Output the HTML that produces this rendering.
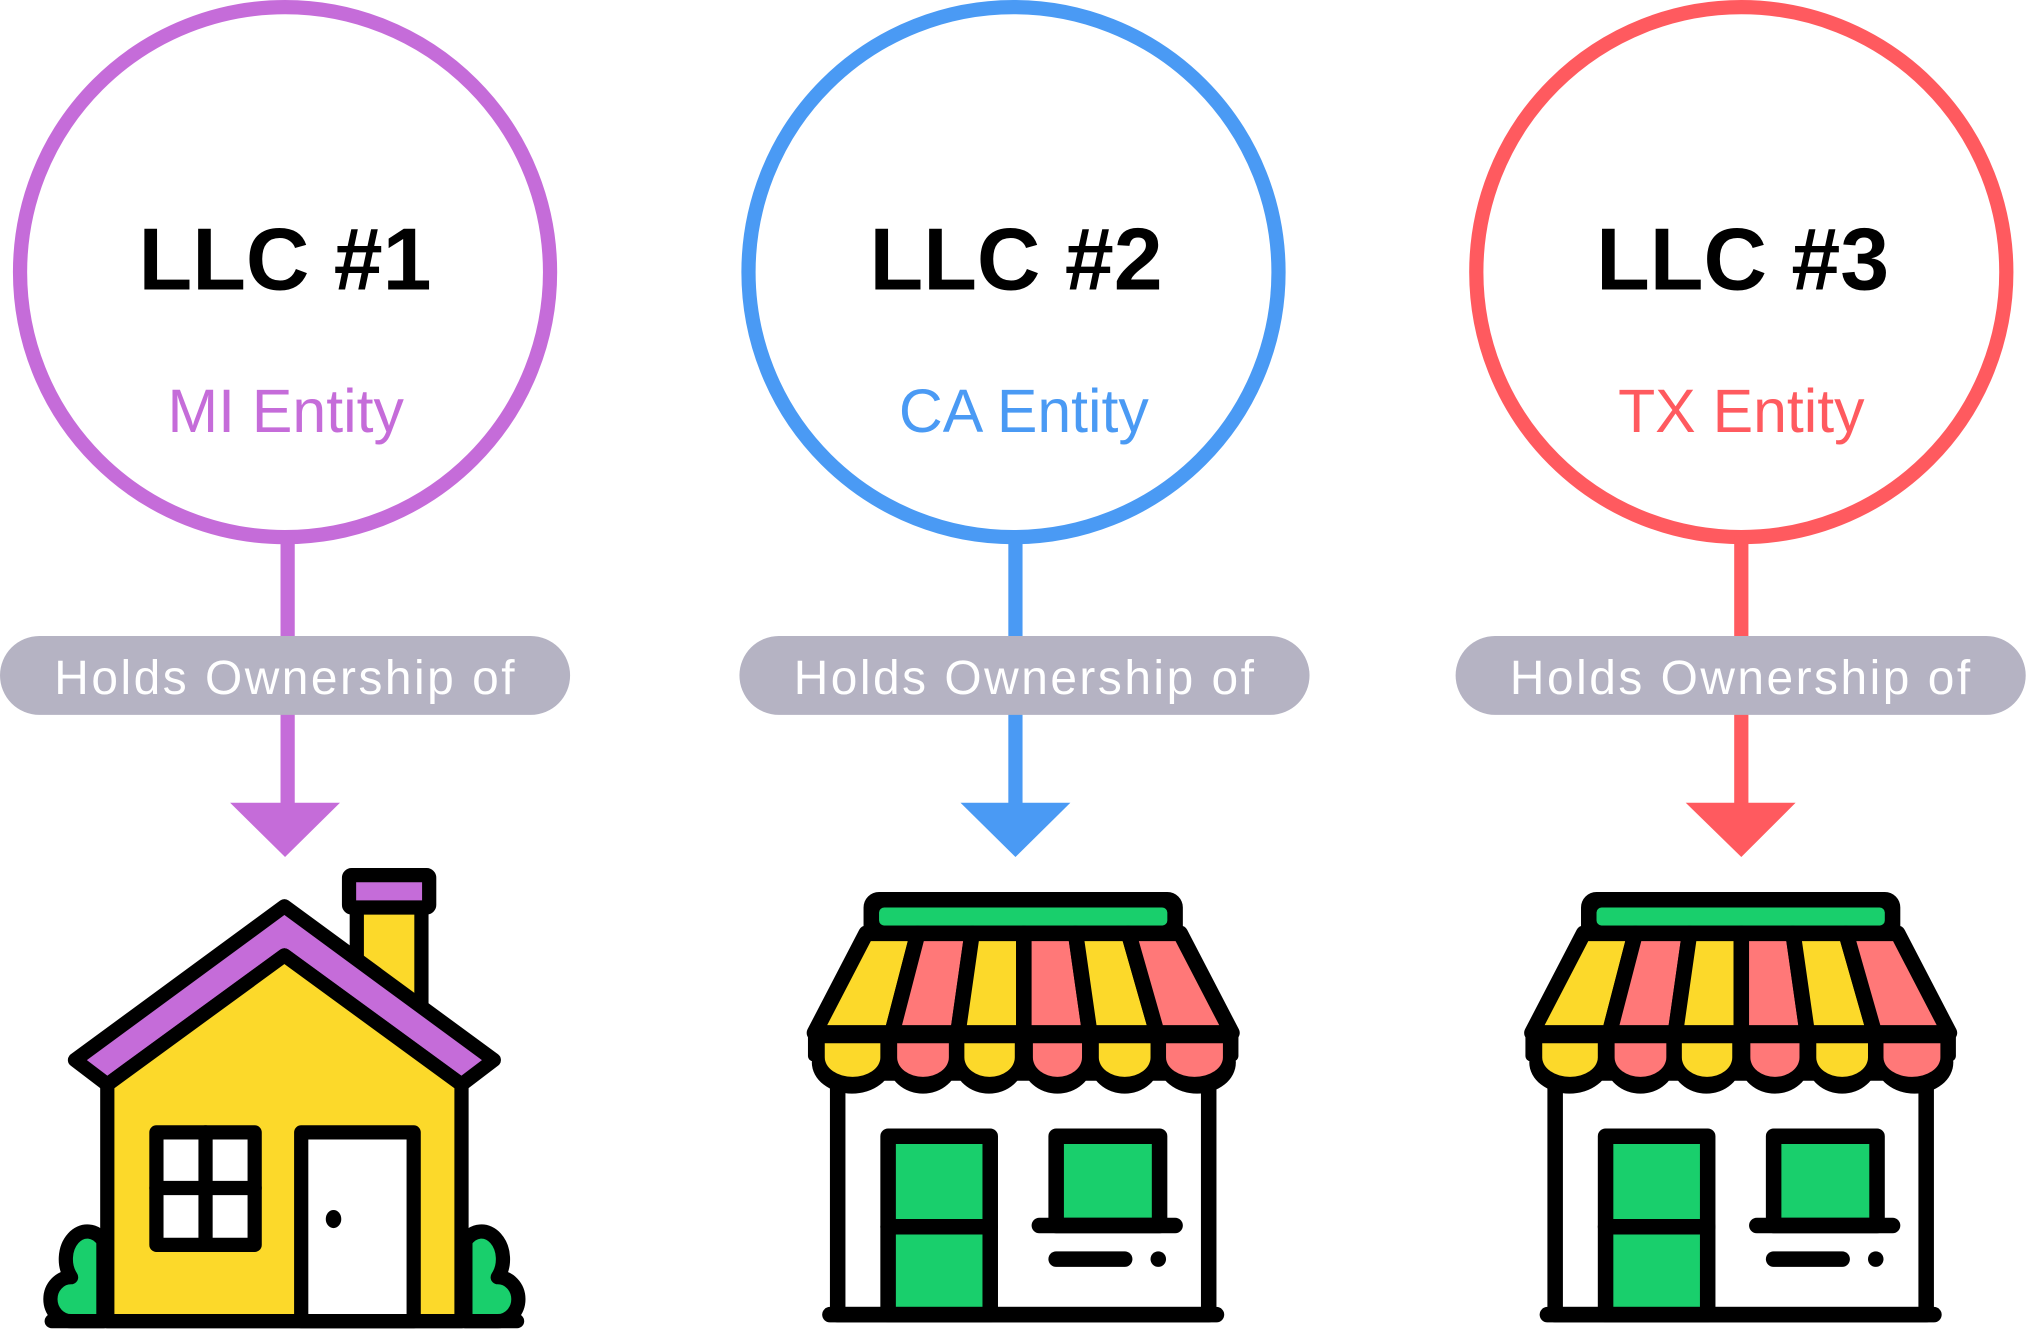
<!DOCTYPE html>
<html><head><meta charset="utf-8"><style>html,body{margin:0;padding:0;background:#fff}svg{display:block}</style></head>
<body>
<svg width="2027" height="1332" viewBox="0 0 1568 1030.4" preserveAspectRatio="none" xmlns="http://www.w3.org/2000/svg">
<defs>
<g id="store">
  <rect x="648" y="830" width="287" height="187" fill="#fff" stroke="#000" stroke-width="12" stroke-linejoin="round"/>
  <rect x="668" y="690" width="247" height="38" rx="12" fill="#000"/>
  <rect x="680" y="702" width="223" height="14" rx="4" fill="#19CF6C"/>
  <g stroke="#000" stroke-width="12" stroke-linejoin="round">
    <polygon points="670,722 710,722 690,799 630,799" fill="#FCD92A"/>
    <polygon points="710,722 752,722 741,799 690,799" fill="#FF7878"/>
    <polygon points="752,722 792,722 792,799 741,799" fill="#FCD92A"/>
    <polygon points="792,722 832,722 843,799 792,799" fill="#FF7878"/>
    <polygon points="832,722 873,722 895,799 843,799" fill="#FCD92A"/>
    <polygon points="873,722 913,722 953,799 895,799" fill="#FF7878"/>
  </g>
  <rect x="625" y="797" width="333" height="24" rx="4" fill="#000"/>
  <g fill="#000">
    <ellipse cx="659" cy="822" rx="31" ry="24"/>
    <ellipse cx="714" cy="822" rx="27" ry="24"/>
    <ellipse cx="765" cy="822" rx="27" ry="24"/>
    <ellipse cx="818" cy="822" rx="27" ry="24"/>
    <ellipse cx="870" cy="822" rx="27" ry="24"/>
    <ellipse cx="926" cy="822" rx="30" ry="24"/>
  </g>
  <path d="M638,807H681V818A21.5,15 0 0 1 638,818Z" fill="#FCD92A"/>
  <path d="M694,807H734V818A20,15 0 0 1 694,818Z" fill="#FF7878"/>
  <path d="M746,807H785V818A19.5,15 0 0 1 746,818Z" fill="#FCD92A"/>
  <path d="M799,807H837V818A19,15 0 0 1 799,818Z" fill="#FF7878"/>
  <path d="M850,807H890V818A20,15 0 0 1 850,818Z" fill="#FCD92A"/>
  <path d="M902,807H946V818A22,15 0 0 1 902,818Z" fill="#FF7878"/>
  <g stroke="#000" stroke-width="12" stroke-linejoin="round" stroke-linecap="round">
    <rect x="687" y="879" width="79" height="138" fill="#19CF6C"/>
    <line x1="687" y1="949" x2="766" y2="949"/>
    <rect x="817" y="879" width="80" height="69" fill="#19CF6C"/>
    <line x1="804" y1="948" x2="909" y2="948"/>
    <line x1="817" y1="974" x2="870" y2="974"/>
    <line x1="642" y1="1017" x2="941" y2="1017"/>
  </g>
  <circle cx="896" cy="974" r="6" fill="#000"/>
</g>
</defs>

<circle cx="220.5" cy="210.5" r="205" fill="none" stroke="#C56CD9" stroke-width="11"/>
<text x="220.5" y="224" font-family="Liberation Sans, sans-serif" font-weight="bold" font-size="68" text-anchor="middle" fill="#000">LLC #1</text>
<text x="221" y="334" font-family="Liberation Sans, sans-serif" font-size="47" text-anchor="middle" fill="#C56CD9">MI Entity</text>
<rect x="217" y="415" width="11" height="210" fill="#C56CD9"/>
<polygon points="178,621 263,621 220.5,663" fill="#C56CD9"/>
<rect x="0" y="492" width="441" height="61" rx="30.5" fill="#B5B3C3"/>
<text x="42" y="537" font-family="Liberation Sans, sans-serif" font-size="37" fill="#fff" textLength="356" lengthAdjust="spacing">Holds Ownership of</text>

<circle cx="784" cy="210.5" r="205" fill="none" stroke="#4A9AF4" stroke-width="11"/>
<text x="786" y="224" font-family="Liberation Sans, sans-serif" font-weight="bold" font-size="68" text-anchor="middle" fill="#000">LLC #2</text>
<text x="792" y="334" font-family="Liberation Sans, sans-serif" font-size="47" text-anchor="middle" fill="#4A9AF4">CA Entity</text>
<rect x="780" y="415" width="11" height="210" fill="#4A9AF4"/>
<polygon points="743,621 828,621 785.5,663" fill="#4A9AF4"/>
<rect x="572" y="492" width="441" height="61" rx="30.5" fill="#B5B3C3"/>
<text x="614" y="537" font-family="Liberation Sans, sans-serif" font-size="37" fill="#fff" textLength="356" lengthAdjust="spacing">Holds Ownership of</text>

<circle cx="1347" cy="210.5" r="205" fill="none" stroke="#FF5A5F" stroke-width="11"/>
<text x="1348" y="224" font-family="Liberation Sans, sans-serif" font-weight="bold" font-size="68" text-anchor="middle" fill="#000">LLC #3</text>
<text x="1347" y="334" font-family="Liberation Sans, sans-serif" font-size="47" text-anchor="middle" fill="#FF5A5F">TX Entity</text>
<rect x="1341.5" y="415" width="11" height="210" fill="#FF5A5F"/>
<polygon points="1304,621 1389,621 1347,663" fill="#FF5A5F"/>
<rect x="1126" y="492" width="441" height="61" rx="30.5" fill="#B5B3C3"/>
<text x="1168" y="537" font-family="Liberation Sans, sans-serif" font-size="37" fill="#fff" textLength="356" lengthAdjust="spacing">Holds Ownership of</text>

<g stroke="#000" stroke-width="11" stroke-linejoin="round" stroke-linecap="round">
  <path d="M80,1022 H55 A16,17 0 0 1 55,988 A14,18 0 0 1 80,960 Z" fill="#19CF6C"/>
  <path d="M360,1022 H385 A16,17 0 0 0 385,988 A14,18 0 0 0 360,960 Z" fill="#19CF6C"/>
  <rect x="276" y="698" width="50" height="95" fill="#FCD92A"/>
  <rect x="270" y="677" width="62" height="25" rx="2" fill="#C56CD9"/>
  <polygon points="220,701 382,820 357,839 220,739 83,839 58,820" fill="#C56CD9"/>
  <polygon points="83,839 220,739 357,839 357,1022 83,1022" fill="#FCD92A"/>
  <rect x="121" y="876" width="76" height="87" fill="#fff"/>
  <line x1="159" y1="876" x2="159" y2="963"/>
  <line x1="121" y1="919" x2="197" y2="919"/>
  <rect x="233" y="876" width="87" height="146" fill="#fff"/>
  <line x1="40" y1="1022" x2="400" y2="1022"/>
</g>
<ellipse cx="258" cy="943" rx="6" ry="7" fill="#000"/>

<use href="#store"/>
<use href="#store" transform="translate(555,0)"/>
</svg>
</body></html>
